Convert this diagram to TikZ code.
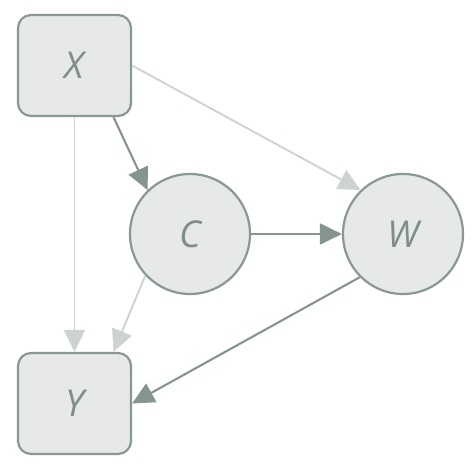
\documentclass[tikz,border=0pt]{standalone}
\usepackage{fontspec}
\setmainfont{Open Sans}
\usetikzlibrary{arrows.meta}
\definecolor{nodefill}{HTML}{E6E9E8}
\definecolor{nodeline}{HTML}{8A9793}
\definecolor{darkedge}{HTML}{859490}
\definecolor{lightedge}{HTML}{CDD3D2}
\definecolor{labelcol}{HTML}{7E8E8A}
\tikzset{
  boxnode/.style={draw=nodeline, fill=nodefill, line width=2.2pt, rounded corners=13pt,
    minimum width=113pt, minimum height=101pt, inner sep=0pt,
    font=\fontsize{37}{37}\selectfont\itshape, text=labelcol},
  circnode/.style={draw=nodeline, fill=nodefill, line width=2.2pt, circle,
    minimum size=120pt, inner sep=0pt,
    font=\fontsize{37}{37}\selectfont\itshape, text=labelcol},
  darkarrow/.style={draw=darkedge, line width=2.1pt, -{Triangle[length=22pt,width=21pt]}},
  lightarrow/.style={draw=lightedge, line width=1.9pt, -{Triangle[length=22pt,width=21pt]}},
}
\begin{document}
\begin{tikzpicture}[x=1pt,y=-1pt]
\useasboundingbox (0,0) rectangle (474,476);
\node[boxnode] (X) at (74.5,65.5) {X};
\node[boxnode] (Y) at (74.5,403.5) {Y};
\node[circnode] (C) at (190,234) {C};
\node[circnode] (W) at (403,234) {W};
\draw[lightarrow] (X.south) -- (Y.north);
\draw[lightarrow] (X.east) -- (W.134);
\draw[lightarrow] (C.223) -- ([xshift=39pt]Y.north);
\draw[darkarrow] ([xshift=39pt]X.south) -- (C.134);
\draw[darkarrow] (C.east) -- (W.west);
\draw[darkarrow] (W.225) -- (Y.east);
\end{tikzpicture}
\end{document}
